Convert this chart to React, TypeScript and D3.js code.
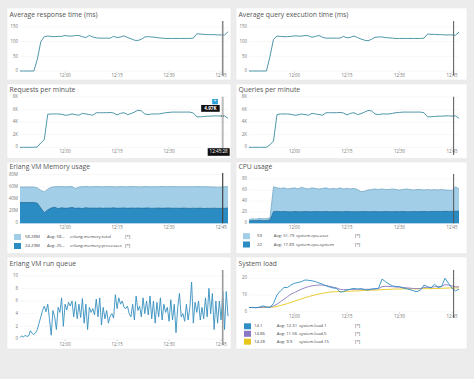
import React from "react";
import * as d3 from "d3";

const FONT = "'Open Sans', 'DejaVu Sans', sans-serif";
const START = new Date(2016, 0, 1, 11, 47);
const END = new Date(2016, 0, 1, 12, 47);
const CURSOR = new Date(2016, 0, 1, 12, 45, 28);
const X_TICK_LABELS = ["12:00", "12:15", "12:30", "12:45"];
const X_TICKS = X_TICK_LABELS.map((s) => new Date(2016, 0, 1, +s.slice(0, 2), +s.slice(3)));

const minuteTimes = d3.range(61).map((i) => new Date(START.getTime() + i * 60000));
const halfMinuteTimes = d3.range(121).map((i) => new Date(START.getTime() + i * 30000));

// Average response time (ms)
const responseTime = [0, 0, 0, 0, 0, 40, 100, 117, 119, 118, 117, 118, 118, 121, 119, 119, 121, 121, 117, 114, 121, 116, 113, 112, 112, 112, 112, 118, 114, 116, 120, 114, 110, 105, 104, 108, 116, 117, 116, 115, 113, 112, 111, 111, 111, 111, 111, 111, 111, 111, 112, 127, 126, 125, 124, 124, 124, 123, 123, 122, 134];
// Average query execution time (ms)
const queryTime = [0, 0, 0, 0, 0, 0, 50, 108, 119, 118, 117, 117, 118, 120, 119, 119, 121, 120, 115, 118, 121, 115, 112, 112, 112, 112, 112, 118, 113, 115, 119, 114, 109, 105, 103, 108, 115, 116, 116, 114, 113, 112, 111, 111, 111, 111, 111, 111, 111, 111, 112, 126, 125, 125, 124, 124, 123, 123, 123, 122, 133];
// Requests per minute (K)
const requestsPerMin = [0, 0, 0, 0, 0, 0.05, 0.7, 1.2, 5.25, 5.3, 5.3, 5.3, 5.25, 5.1, 5.15, 5.3, 5.2, 5.1, 5.4, 5.3, 5.2, 5.1, 5.5, 5.5, 5.5, 5.5, 5.55, 5.45, 5.15, 5.4, 5.5, 5.2, 5.35, 5.6, 5.9, 5.8, 5.3, 5.2, 5.3, 5.3, 5.3, 5.4, 5.5, 5.55, 5.6, 5.6, 5.6, 5.6, 5.6, 5.6, 5.45, 4.85, 4.85, 4.9, 4.95, 4.95, 5.0, 5.0, 4.97, 5.0, 4.6];
// Queries per minute (K)
const queriesPerMin = [0, 0, 0, 0, 0, 0, 0.4, 1.0, 5.2, 5.3, 5.3, 5.3, 5.25, 5.1, 5.15, 5.3, 5.2, 5.1, 5.4, 5.3, 5.2, 5.1, 5.5, 5.5, 5.5, 5.5, 5.55, 5.45, 5.15, 5.4, 5.5, 5.2, 5.35, 5.6, 5.85, 5.8, 5.3, 5.2, 5.3, 5.3, 5.3, 5.4, 5.5, 5.55, 5.6, 5.6, 5.6, 5.6, 5.6, 5.6, 5.5, 4.85, 4.85, 4.9, 4.95, 4.95, 5.0, 5.0, 4.97, 5.0, 4.6];
// Erlang VM memory (M)
const memTotal = [59.5, 59.5, 59.5, 59.5, 59.5, 58, 54, 51.5, 56, 59, 60, 60, 60.2, 59.8, 60, 60.3, 57, 59.5, 60, 60.2, 59.8, 60, 60.3, 60, 59.8, 60.2, 60, 60, 59.6, 60.2, 60, 59.8, 60.3, 60, 60, 59.7, 60.2, 60, 59.8, 60.1, 60, 60.3, 59.9, 60, 60.2, 59.8, 60, 60, 60.1, 59.8, 60, 60, 60.2, 59.9, 60, 59.7, 59.5, 59.2, 59.5, 60, 59.8];
const memProcesses = [34, 34, 34, 34, 34, 33, 25, 17.5, 22, 25, 26.5, 24, 25.5, 24.5, 25, 26, 24.5, 25, 24.2, 25.5, 24.8, 25, 24.6, 25.2, 24.5, 25, 24.8, 25.3, 24.6, 24.9, 25.2, 24.5, 25, 24.7, 25.1, 24.6, 24.9, 25.2, 24.4, 24.8, 25, 24.5, 24.9, 25.1, 24.6, 24.8, 24.5, 24.9, 24.7, 24.3, 24.8, 24.5, 24.9, 24.2, 24.6, 24.4, 24.8, 24.3, 24.6, 24.5, 25.2];
// CPU usage (%)
const cpuUser = [7, 8, 7.5, 9, 8, 8.5, 9.5, 66, 64, 63, 64, 62, 63, 64, 62, 65, 63, 62, 64, 63, 62, 63, 64, 62, 63, 62, 64, 62, 63, 62, 63, 61, 57, 58, 60, 61, 62, 61, 62, 61, 61, 62, 61, 60, 61, 62, 61, 60, 61, 61, 60, 61, 60, 61, 60, 61, 60, 60, 59, 66, 62];
const cpuSystem = [4, 5, 4.5, 5.5, 4.5, 5, 6, 21, 21.5, 20.8, 21.2, 21, 20.6, 21.3, 21, 20.7, 21.2, 21, 20.8, 21.3, 21, 20.9, 21.2, 20.8, 21, 21.1, 20.7, 21, 21.2, 20.9, 21, 20.8, 21, 21.2, 20.9, 21, 21.1, 20.9, 21, 21.2, 21, 20.9, 21.1, 21, 21.3, 21, 20.9, 21.2, 21, 21.1, 21.3, 21, 21.4, 21.2, 21.5, 21.3, 21.6, 21.4, 21.5, 21.8, 22];
// Erlang VM run queue (every 30s)
const runQueue = [0.2, 0.5, 0.3, 0.6, 0.4, 0.5, 1.3, 0.9, 0.7, 1.0, 1.5, 2.5, 3.5, 4.5, 5.2, 4.3, 5.5, 3.2, 0.6, 4.5, 3.5, 1.5, 5.0, 4.2, 6.5, 2.0, 5.5, 4.6, 5.8, 5.2, 6.0, 3.5, 5.9, 3.2, 5.5, 3.4, 6.4, 2.5, 5.5, 1.5, 5.0, 4.2, 4.8, 3.8, 6.3, 3.5, 6.5, 2.2, 5.0, 3.2, 4.5, 2.5, 3.6, 4.0, 3.3, 7.0, 4.8, 6.5, 5.5, 6.0, 5.0, 4.8, 5.2, 4.0, 3.5, 5.5, 3.0, 6.8, 4.5, 5.2, 3.5, 6.5, 4.0, 6.0, 3.8, 6.8, 3.2, 6.0, 2.5, 5.8, 3.5, 6.5, 3.0, 5.5, 4.2, 5.0, 2.8, 6.2, 3.0, 5.5, 1.0, 5.0, 7.2, 3.5, 4.0, 2.8, 5.5, 3.0, 5.0, 9.0, 2.5, 5.8, 4.2, 6.0, 3.0, 5.0, 3.2, 6.5, 3.5, 8.0, 4.0, 7.2, 1.5, 6.0, 2.5, 6.0, 3.0, 7.5, 1.5, 7.5, 3.6];
// System load
const load1 = [2.5, 2.6, 2.4, 2.8, 3.5, 2.8, 2.6, 5, 10, 12.5, 14.5, 14.5, 16, 17, 17.5, 18, 19, 18.8, 18.5, 18, 17.2, 16.5, 15.5, 14.8, 14.2, 14, 11.8, 12, 13, 13.5, 14, 13.5, 13.8, 13.2, 13, 13.5, 13.8, 14, 19.5, 18, 16.5, 15.5, 15, 15, 14.2, 13.8, 13.2, 12.5, 12, 13, 16, 15, 14.2, 16.5, 14.5, 15, 20, 17, 14, 12.5, 13.5];
const load5 = [2.5, 2.5, 2.4, 2.5, 2.7, 2.7, 2.7, 3.5, 4.5, 6, 7.5, 9, 10.5, 11.5, 12.5, 13.5, 14.3, 15, 15.5, 15.8, 16, 15.9, 15.6, 15.2, 14.7, 14.2, 13.4, 13.2, 13.2, 13.3, 13.4, 13.5, 13.5, 13.4, 13.4, 13.5, 13.6, 13.8, 15, 15.2, 15.1, 15, 14.8, 14.7, 14.5, 14.3, 14.1, 13.9, 13.8, 13.9, 14.5, 14.6, 14.5, 15, 15, 15.1, 16.2, 16, 15.4, 14.9, 14.9];
const load15 = [2.5, 2.5, 2.5, 2.5, 2.6, 2.6, 2.6, 2.8, 3.2, 3.7, 4.3, 4.9, 5.6, 6.3, 7, 7.7, 8.4, 9, 9.6, 10.1, 10.6, 11, 11.4, 11.7, 11.9, 12, 12.1, 12.1, 12.2, 12.3, 12.4, 12.5, 12.6, 12.7, 12.8, 12.9, 13, 13, 13.2, 13.3, 13.4, 13.5, 13.6, 13.6, 13.7, 13.7, 13.7, 13.7, 13.7, 13.7, 13.8, 13.8, 13.8, 13.9, 13.9, 14, 14.1, 14.2, 14.2, 14.2, 14.3];

const memLegend = [
  ["58.28M", "Avg: 58...", "erlang.memory.total", "[*]"],
  ["24.29M", "Avg: 25...", "erlang.memory.processes", "[*]"],
];
const cpuLegend = [
  ["59", "Avg: 51.79", "system.cpu.user", "[*]"],
  ["22", "Avg: 17.89", "system.cpu.system", "[*]"],
];
const loadLegend = [
  ["14.1", "Avg: 12.31", "system.load.1", "[*]"],
  ["14.86", "Avg: 11.56", "system.load.5", "[*]"],
  ["14.28", "Avg: 9.9", "system.load.15", "[*]"],
];

const LINE = "#4f97a8";
const LIGHT = "#a2cee7";
const LIGHT_EDGE = "#6a9fbf";
const DARK = "#2b8cc4";
const DARK_EDGE = "#1b6797";

type Cfg = {
  frame: [number, number, number, number];
  title: string;
  titleY: number;
  xr: [number, number];
  ymax: number;
  yr: [number, number];
  ticks: number[];
  fmt: (v: number) => string;
  xLabelY: number;
  cursor: [number, number];
  cursorStyle?: { stroke: string; w: number };
  hideLastLabel?: boolean;
};

function Panel({ cfg, children }: { cfg: Cfg; children: (x: any, y: any) => React.ReactNode }) {
  const [fx, fy, fw, fh] = cfg.frame;
  const x = d3.scaleTime().domain([START, END]).range(cfg.xr);
  const y = d3.scaleLinear().domain([0, cfg.ymax]).range(cfg.yr);
  const cs = cfg.cursorStyle || { stroke: "#666", w: 1.2 };
  return (
    <g>
      <rect x={fx} y={fy} width={fw} height={fh} fill="#fff" stroke="#e3e3e3" strokeWidth={0.5} />
      <text x={fx + 2.5} y={cfg.titleY} fontSize={6.8} fill="#555" fontFamily={FONT}>
        {cfg.title}
      </text>
      {cfg.ticks.map((t) => (
        <g key={t}>
          <line x1={cfg.xr[0]} x2={cfg.xr[1]} y1={y(t)} y2={y(t)} stroke="#f1f1f1" strokeWidth={0.6} />
          <text x={cfg.xr[0] - 2} y={y(t)} fontSize={4.4} fill="#777" textAnchor="end" dominantBaseline="middle" fontFamily={FONT}>
            {cfg.fmt(t)}
          </text>
        </g>
      ))}
      {X_TICKS.map((t, i) => (
        <g key={i}>
          <line x1={x(t)} x2={x(t)} y1={cfg.yr[0] + 0.5} y2={cfg.yr[0] + 2} stroke="#bbb" strokeWidth={0.6} />
          {cfg.hideLastLabel && i === X_TICKS.length - 1 ? null : (
            <text x={x(t)} y={cfg.xLabelY} fontSize={4.4} fill="#777" textAnchor="middle" dominantBaseline="middle" fontFamily={FONT}>
              {X_TICK_LABELS[i]}
            </text>
          )}
        </g>
      ))}
      {children(x, y)}
      <line x1={x(CURSOR)} x2={x(CURSOR)} y1={cfg.cursor[0]} y2={cfg.cursor[1]} stroke={cs.stroke} strokeWidth={cs.w} />
    </g>
  );
}

function linePath(x: any, y: any, times: Date[], vals: number[]) {
  return d3.line<number>().x((_, i) => x(times[i])).y((d) => y(d))(vals) || "";
}
function areaPath(x: any, y: any, times: Date[], vals: number[]) {
  return d3.area<number>().x((_, i) => x(times[i])).y0(y(0)).y1((d) => y(d))(vals) || "";
}

function Legend({ rows, colors, sx, ys, cols }: { rows: string[][]; colors: string[]; sx: number; ys: number[]; cols: number[] }) {
  return (
    <g fontFamily={FONT} fontSize={4.3} fill="#444">
      {rows.map((r, i) => (
        <g key={i}>
          <rect x={sx} y={ys[i] - 3} width={7} height={6} fill={colors[i]} />
          {r.map((t, j) => (
            <text key={j} x={cols[j]} y={ys[i]} dominantBaseline="middle">
              {t}
            </text>
          ))}
        </g>
      ))}
    </g>
  );
}

const kFmt = (v: number) => (v === 0 ? "0" : v + "K");
const mFmt = (v: number) => (v === 0 ? "0" : v + "M");

export default function App() {
  const L: [number, number] = [20, 228];
  const R: [number, number] = [249, 459];
  const p1: Cfg = { frame: [7, 8, 224, 72], title: "Average response time (ms)", titleY: 16.5, xr: L, ymax: 150, yr: [71, 27], ticks: [0, 50, 100, 150], fmt: String, xLabelY: 76, cursor: [21, 75], cursorStyle: { stroke: "#8a8a8a", w: 1.6 } };
  const p2: Cfg = { ...p1, frame: [236, 8, 231, 72], title: "Average query execution time (ms)", xr: R, cursorStyle: { stroke: "#555", w: 1 } };
  const p3: Cfg = { frame: [7, 84, 224, 74.5], title: "Requests per minute", titleY: 92, xr: L, ymax: 8, yr: [147.3, 97], ticks: [0, 2, 4, 6, 8], fmt: kFmt, xLabelY: 151.5, cursor: [96.7, 148], cursorStyle: { stroke: "#bbb", w: 2 }, hideLastLabel: true };
  const p4: Cfg = { ...p3, frame: [236, 84, 231, 74.5], title: "Queries per minute", xr: R, cursor: [96.7, 155], cursorStyle: { stroke: "#555", w: 1 }, hideLastLabel: false };
  const p5: Cfg = { frame: [7, 162, 224, 91.5], title: "Erlang VM Memory usage", titleY: 168.6, xr: L, ymax: 80, yr: [223.3, 174.5], ticks: [0, 20, 40, 60, 80], fmt: mFmt, xLabelY: 227.5, cursor: [173, 223.3], cursorStyle: { stroke: "#444", w: 1.2 } };
  const p6: Cfg = { ...p5, frame: [236, 162, 231, 91.5], title: "CPU usage", titleY: 168.6, xr: R, yr: [223.3, 179], fmt: String, cursor: [174, 223.3], cursorStyle: { stroke: "#555", w: 1 } };
  const p7: Cfg = { frame: [7, 257, 224, 92], title: "Erlang VM run queue", titleY: 266, xr: L, ymax: 10, yr: [339, 275.7], ticks: [0, 2, 4, 6, 8, 10], fmt: String, xLabelY: 344.5, cursor: [270, 345], cursorStyle: { stroke: "#999", w: 1.6 } };
  const p8: Cfg = { frame: [236, 257, 231, 92], title: "System load", titleY: 266, xr: R, ymax: 20, yr: [311.7, 278.3], ticks: [0, 10, 20], fmt: String, xLabelY: 317, cursor: [270, 318], cursorStyle: { stroke: "#555", w: 1 } };

  return (
    <svg width={474} height={379} style={{ position: "fixed", left: 0, top: 0, display: "block" }}>
      <rect width={474} height={379} fill="#ececec" />
      <Panel cfg={p1}>{(x, y) => <path d={linePath(x, y, minuteTimes, responseTime)} fill="none" stroke={LINE} strokeWidth={1} />}</Panel>
      <Panel cfg={p2}>{(x, y) => <path d={linePath(x, y, minuteTimes, queryTime)} fill="none" stroke={LINE} strokeWidth={1} />}</Panel>
      <Panel cfg={p3}>
        {(x, y) => {
          const cx = x(CURSOR);
          const cy = y(4.97);
          return (
            <g>
              <path d={linePath(x, y, minuteTimes, requestsPerMin)} fill="none" stroke={LINE} strokeWidth={1} />
              <rect x={cx - 10.5} y={99} width={5.7} height={5.3} fill="#2a9fd6" />
              <text x={cx - 7.65} y={101.9} fontSize={4.5} fill="#fff" textAnchor="middle" dominantBaseline="middle" fontFamily={FONT}>+</text>
              <rect x={cx - 21.5} y={105} width={18.5} height={6.8} fill="#111" />
              <text x={cx - 12.25} y={108.5} fontSize={4.6} fill="#fff" fontWeight="bold" textAnchor="middle" dominantBaseline="middle" fontFamily={FONT}>4.97K</text>
              <circle cx={cx} cy={cy} r={1.3} fill="#111" />
              <rect x={cx - 15} y={148.2} width={22} height={7.6} fill="#111" />
              <text x={cx - 4} y={152.1} fontSize={4.6} fill="#fff" textAnchor="middle" dominantBaseline="middle" fontFamily={FONT}>12:45:28</text>
            </g>
          );
        }}
      </Panel>
      <Panel cfg={p4}>{(x, y) => <path d={linePath(x, y, minuteTimes, queriesPerMin)} fill="none" stroke={LINE} strokeWidth={1} />}</Panel>
      <Panel cfg={p5}>
        {(x, y) => (
          <g>
            <path d={areaPath(x, y, minuteTimes, memTotal)} fill={LIGHT} />
            <path d={linePath(x, y, minuteTimes, memTotal)} fill="none" stroke={LIGHT_EDGE} strokeWidth={0.7} />
            <path d={areaPath(x, y, minuteTimes, memProcesses)} fill={DARK} />
            <path d={linePath(x, y, minuteTimes, memProcesses)} fill="none" stroke={DARK_EDGE} strokeWidth={0.7} />
          </g>
        )}
      </Panel>
      <Legend rows={memLegend} colors={[LIGHT, DARK]} sx={14} ys={[237, 246]} cols={[25, 47, 70, 125]} />
      <Panel cfg={p6}>
        {(x, y) => (
          <g>
            <path d={areaPath(x, y, minuteTimes, cpuUser)} fill={LIGHT} />
            <path d={linePath(x, y, minuteTimes, cpuUser)} fill="none" stroke={LIGHT_EDGE} strokeWidth={0.7} />
            <path d={areaPath(x, y, minuteTimes, cpuSystem)} fill={DARK} />
            <path d={linePath(x, y, minuteTimes, cpuSystem)} fill="none" stroke={DARK_EDGE} strokeWidth={0.7} />
          </g>
        )}
      </Panel>
      <Legend rows={cpuLegend} colors={[LIGHT, DARK]} sx={243} ys={[236.2, 244.5]} cols={[257, 273.7, 296, 355]} />
      <Panel cfg={p7}>{(x, y) => <path d={linePath(x, y, halfMinuteTimes, runQueue)} fill="none" stroke="#3590c0" strokeWidth={0.9} />}</Panel>
      <Panel cfg={p8}>
        {(x, y) => (
          <g>
            <path d={linePath(x, y, minuteTimes, load15)} fill="none" stroke="#e8c51c" strokeWidth={0.9} />
            <path d={linePath(x, y, minuteTimes, load5)} fill="none" stroke="#8a78c2" strokeWidth={0.9} />
            <path d={linePath(x, y, minuteTimes, load1)} fill="none" stroke="#2f8ec4" strokeWidth={0.9} />
          </g>
        )}
      </Panel>
      <Legend rows={loadLegend} colors={["#2f8ec4", "#8a78c2", "#e8c51c"]} sx={244} ys={[326.3, 333.8, 341.7]} cols={[254, 276.7, 299, 355]} />
    </svg>
  );
}
